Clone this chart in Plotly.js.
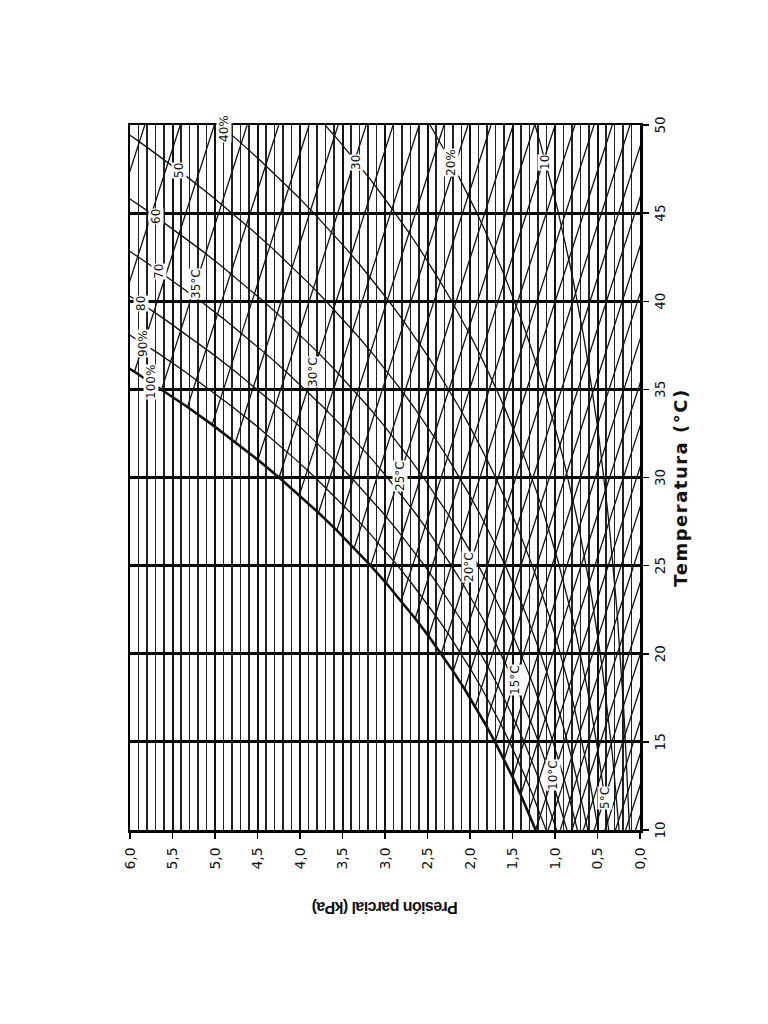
<!DOCTYPE html>
<html>
<head>
<meta charset="utf-8">
<script src="https://cdn.plot.ly/plotly-3.0.1.min.js"></script>
<style>
html, body { margin: 0; padding: 0; background: #fff; width: 768px; height: 1024px; overflow: hidden; }
#chart { position: absolute; left: -128px; top: 128px; width: 1024px; height: 768px;
         transform: rotate(-90deg); transform-origin: 50% 50%; }
#chart .xtitle { letter-spacing: 1.5px; transform: translate(-10px, 0px); }
#chart .ytitle { letter-spacing: -0.6px; }
</style>
</head>
<body>
<div id="chart"></div>
<script>
// Saturation vapour pressure table (kPa) vs temperature (°C)
const satTemps = [0,1,2,3,4,5,6,7,8,9,10,11,12,13,14,15,16,17,18,19,20,21,22,23,24,25,26,27,28,29,30,31,32,33,34,35,36,37,38,39,40,41,42,43,44,45,46,47,48,49,50];
const satPressures = [0.611,0.657,0.706,0.758,0.814,0.873,0.935,1.002,1.073,1.148,1.228,1.313,1.403,1.498,1.599,1.706,1.819,1.938,2.064,2.198,2.339,2.487,2.645,2.810,2.985,3.169,3.363,3.567,3.782,4.008,4.246,4.496,4.759,5.034,5.324,5.628,5.947,6.281,6.631,6.998,7.383,7.786,8.208,8.649,9.111,9.593,10.098,10.624,11.175,11.749,12.349];

// Relative humidity curves (%)
const rhLevels = [100,90,80,70,60,50,40,30,20,10];
const rhLabels = ['100%','90%','80','70','60','50','40%','30','20%','10'];
const rhLabelTemps = [35.4,37.6,39.9,41.7,44.8,47.4,49.8,47.9,47.9,47.9];

// Wet-bulb temperature lines (°C)
const wetBulbTemps = [1,2,3,4,5,6,7,8,9,10,11,12,13,14,15,16,17,18,19,20,21,22,23,24,25,26,27,28,29,30,31,32,33,34,35,36,37,38];
const wetBulbLabelValues = [5,10,15,20,25,30,35];
const wetBulbLabels = ['5°C','10°C','15°C','20°C','25°C','30°C','35°C'];
const wetBulbLabelTemps = [11.8,13.1,18.5,24.9,30.1,36.0,41.0];
const psychroConstant = 0.0671; // kPa per °C

// Axes
const tempTicks = [10,15,20,25,30,35,40,45,50];
const tempTickText = ['10','15','20','25','30','35','40','45','50'];
const pressTicks = [0,0.5,1,1.5,2,2.5,3,3.5,4,4.5,5,5.5,6];
const pressTickText = ['0,0','0,5','1,0','1,5','2,0','2,5','3,0','3,5','4,0','4,5','5,0','5,5','6,0'];

function psat(T) {
  for (let i = 0; i < satTemps.length - 1; i++) {
    if (T <= satTemps[i + 1]) {
      const f = (T - satTemps[i]) / (satTemps[i + 1] - satTemps[i]);
      return satPressures[i] + f * (satPressures[i + 1] - satPressures[i]);
    }
  }
  return satPressures[satPressures.length - 1];
}

const INK = '#111';
const traces = [];

// wet-bulb lines
wetBulbTemps.forEach(tw => {
  const p0 = psat(tw);
  traces.push({
    type: 'scatter', mode: 'lines',
    x: [tw, 50], y: [p0, p0 - psychroConstant * (50 - tw)],
    line: { color: INK, width: 1.3 }, hoverinfo: 'skip', showlegend: false
  });
});

// relative humidity curves
const i10 = satTemps.indexOf(10);
const curveT = satTemps.slice(i10);
const curveP = satPressures.slice(i10);
rhLevels.forEach(rh => {
  traces.push({
    type: 'scatter', mode: 'lines', line: { color: INK, width: rh === 100 ? 2.6 : 1.3 },
    x: curveT, y: curveP.map(p => p * rh / 100),
    hoverinfo: 'skip', showlegend: false
  });
});

const labelFont = { family: 'DejaVu Sans, Liberation Sans, sans-serif', size: 12, color: INK };
const annotations = [];
rhLevels.forEach((rh, i) => {
  const T = rhLabelTemps[i];
  annotations.push({ x: T, y: psat(T) * rh / 100, text: rhLabels[i], showarrow: false,
    bgcolor: '#fff', borderpad: 0, font: labelFont });
});
wetBulbLabelValues.forEach((tw, i) => {
  const T = wetBulbLabelTemps[i];
  annotations.push({ x: T, y: psat(tw) - psychroConstant * (T - tw), text: wetBulbLabels[i], showarrow: false,
    bgcolor: '#fff', borderpad: 0, font: labelFont });
});

const layout = {
  width: 1024, height: 768,
  margin: { l: 194, r: 125, t: 130, b: 128 },
  paper_bgcolor: '#fff', plot_bgcolor: '#fff',
  showlegend: false,
  font: { family: 'DejaVu Sans, Liberation Sans, sans-serif', color: INK },
  xaxis: {
    range: [10, 50], tickvals: tempTicks, ticktext: tempTickText,
    showgrid: true, gridcolor: '#000', gridwidth: 3,
    zeroline: false, showline: true, mirror: true, linecolor: '#000', linewidth: 2.5,
    ticks: 'outside', ticklen: 6, tickwidth: 1.5, tickcolor: '#000',
    tickfont: { size: 13.5, family: 'DejaVu Sans, sans-serif', color: INK },
    automargin: false,
    title: { text: 'Temperatura (°C)', standoff: 8,
      font: { size: 18, family: 'DejaVu Sans, sans-serif', weight: 'bold', color: INK } }
  },
  yaxis: {
    range: [0, 6], tickvals: pressTicks, ticktext: pressTickText,
    showgrid: true, gridcolor: '#111', gridwidth: 2,
    minor: { dtick: 0.1, showgrid: true, gridcolor: '#222', gridwidth: 1.1, ticks: '' },
    zeroline: false, showline: true, mirror: true, linecolor: '#000', linewidth: 2.5,
    ticks: 'outside', ticklen: 6, tickwidth: 1.5, tickcolor: '#000', ticklabelstandoff: 6,
    tickfont: { size: 14, family: 'DejaVu Sans, sans-serif', color: INK },
    automargin: false,
    title: { text: 'Presión parcial (kPa)', standoff: 28,
      font: { size: 16, family: 'Liberation Sans, Arial, sans-serif', weight: 'bold', color: INK } }
  },
  annotations: annotations
};

Plotly.newPlot('chart', traces, layout, { staticPlot: true, displayModeBar: false });
</script>
</body>
</html>
